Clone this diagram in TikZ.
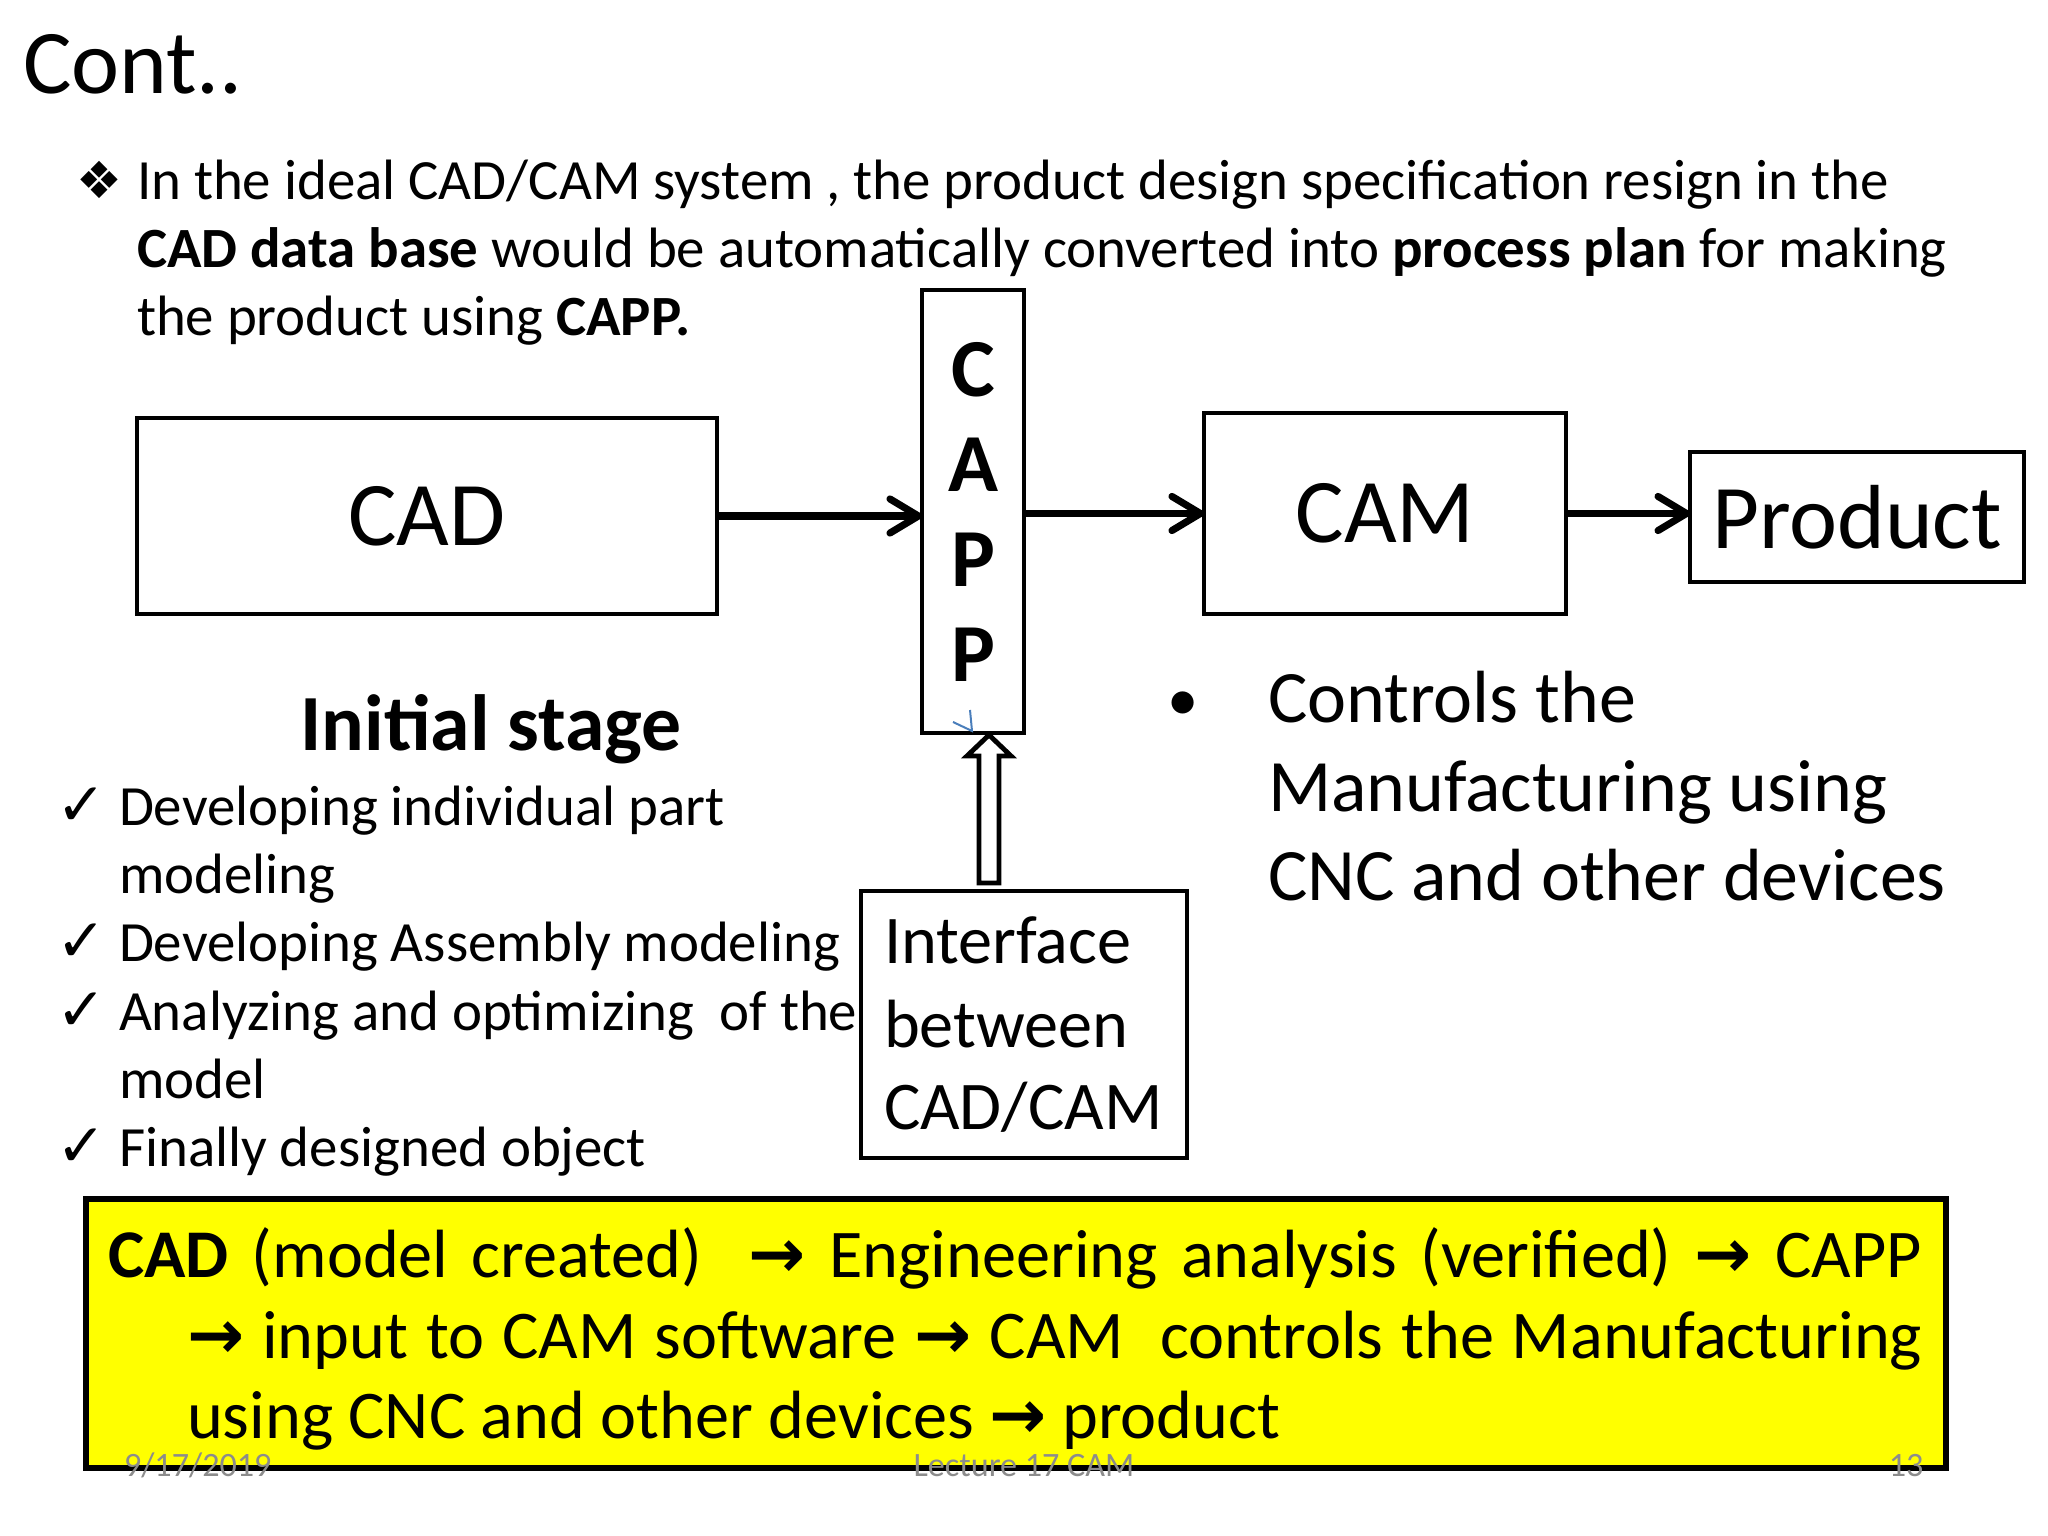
\documentclass[tikz,border=0pt]{standalone}
\usepackage{fontspec}
\setmainfont{Carlito}
\newfontfamily\djv{DejaVu Sans}
\usetikzlibrary{arrows.meta,calc}
\definecolor{slideyellow}{HTML}{FFFF00}
\definecolor{footgray}{HTML}{8C8C8C}
\definecolor{markblue}{HTML}{4A7EBB}
\tikzset{
  box/.style={draw=black,line width=1.7pt,inner sep=0pt,outer sep=0pt},
  txt/.style={inner sep=0pt,outer sep=0pt,anchor=base west},
  flow/.style={line width=2.5pt,-{Straight Barb[length=10pt,width=12pt,line cap=round,line join=round]}},
  bodyf/.style={font=\fontsize{20}{24}\selectfont},
  bigf/.style={font=\fontsize{32}{38}\selectfont},
  ifacef/.style={font=\fontsize{24}{29}\selectfont},
  ctrlf/.style={font=\fontsize{26}{31}\selectfont},
  footf/.style={font=\fontsize{12}{14}\selectfont,text=footgray},
  checkf/.style={font=\djv\fontsize{21}{24}\selectfont}
}
\begin{document}
\begin{tikzpicture}[x=0.3515625pt,y=-0.3515625pt]
\useasboundingbox[fill=white] (0,0) rectangle (2048,1536);

% title and intro
\node[txt,bigf] (title) at (23,94) {Cont..};
\node[txt,font=\djv\fontsize{18}{22}\selectfont] (dia) at (76,199) {❖};
\node[txt,bodyf] (p1) at (137,200) {In the ideal CAD/CAM system , the product design specification resign in the};
\node[txt,bodyf] (p2) at (137,268) {\textbf{CAD data base} would be automatically converted into \textbf{process plan} for making};
\node[txt,bodyf] (p3) at (137,336) {the product using \textbf{CAPP.}};

% main boxes
\node[box,bigf,minimum width=203.9pt,minimum height=68.9pt] (cad) at (427,516) {CAD};
\node[box,minimum width=35.9pt,minimum height=155.7pt,align=center,font=\fontsize{29}{33.4}\selectfont\bfseries] (capp) at (973,511.5) {C\\A\\P\\P};
\node[box,bigf,minimum width=127.3pt,minimum height=70.7pt] (cam) at (1385,513.5) {CAM};
\node[box,bigf,minimum width=117.4pt,minimum height=45.7pt] (prod) at (1857,517) {Product};
\node[box,minimum width=114.6pt,minimum height=93.9pt] (iface) at (1024,1024.5) {};

% connectors
\draw[flow] (cad.east) -- (cad.east -| capp.west);
\draw[flow] (capp.east |- cam.west) -- (cam.west);
\draw[flow] (cam.east) -- (cam.east -| prod.west);

% hollow arrow interface -> CAPP
\coordinate (htip) at ($(capp.south)+(16,2)$);
\draw[line width=1.7pt,fill=white,line join=miter]
  (htip) -- ++(22,21) -- ++(-12,0) -- ($(iface.north)+(-25,-8)$) -- ++(-20,0)
  -- ($(htip)+(-10,21)$) -- ++(-12,0) -- cycle;

% small blue mark
\draw[markblue,line width=0.7pt] (953,722) -- (972,731) -- (970,710);

% Initial stage
\node[inner sep=0pt,anchor=base,font=\fontsize{28}{34}\selectfont\bfseries] (init) at (491,751) {Initial stage};
\node[txt,checkf] (ck1) at (56,825) {✓};
\node[txt,bodyf] (l1) at (119,825) {Developing individual part};
\node[txt,bodyf] (l1b) at (119,893) {modeling};
\node[txt,checkf] (ck2) at (56,961) {✓};
\node[txt,bodyf] (l2) at (119,961) {Developing Assembly modeling};
\node[txt,checkf] (ck3) at (56,1030) {✓};
\node[txt,bodyf] (l3) at (119,1030) {Analyzing and optimizing\ \ of the};
\node[txt,bodyf] (l3b) at (119,1098) {model};
\node[txt,checkf] (ck4) at (56,1166) {✓};
\node[txt,bodyf] (l4) at (119,1166) {Finally designed object};

% Controls text
\node[txt,font=\fontsize{22}{26}\selectfont] (bul) at (1167,720) {•};
\node[txt,ctrlf] (c1) at (1268,722) {Controls the};
\node[txt,ctrlf] (c2) at (1268,811) {Manufacturing using};
\node[txt,ctrlf] (c3) at (1268,900) {CNC and other devices};

% Interface text
\node[txt,ifacef] (i1) at (884,963) {Interface};
\node[txt,ifacef] (i2) at (884,1047) {between};
\node[txt,ifacef] (i3) at (884,1129) {CAD/CAM};

% yellow summary
\node[box,line width=1.9pt,fill=slideyellow,minimum width=653.9pt,minimum height=94.6pt] (summ) at (1016,1333.5) {};
\node[txt,ifacef] (s1) at (108,1277) {\makebox[637.7pt][s]{\textbf{CAD} (model created)\ \ {\djv\bfseries →} Engineering analysis (verified) {\djv\bfseries →} CAPP}};
\node[txt,ifacef] (s2) at (187,1358) {\makebox[610pt][s]{{\djv\bfseries →} input to CAM software {\djv\bfseries →} CAM\ \ controls the Manufacturing}};
\node[txt,ifacef] (s3) at (187,1438) {using CNC and other devices {\djv\bfseries →} product};

% footer
\node[txt,footf] (fdate) at (124,1476) {9/17/2019};
\node[inner sep=0pt,anchor=base,footf] (flec) at (1024,1476) {Lecture 17 CAM};
\node[inner sep=0pt,anchor=base east,footf] (fnum) at (1924,1476) {13};
\end{tikzpicture}
\end{document}
